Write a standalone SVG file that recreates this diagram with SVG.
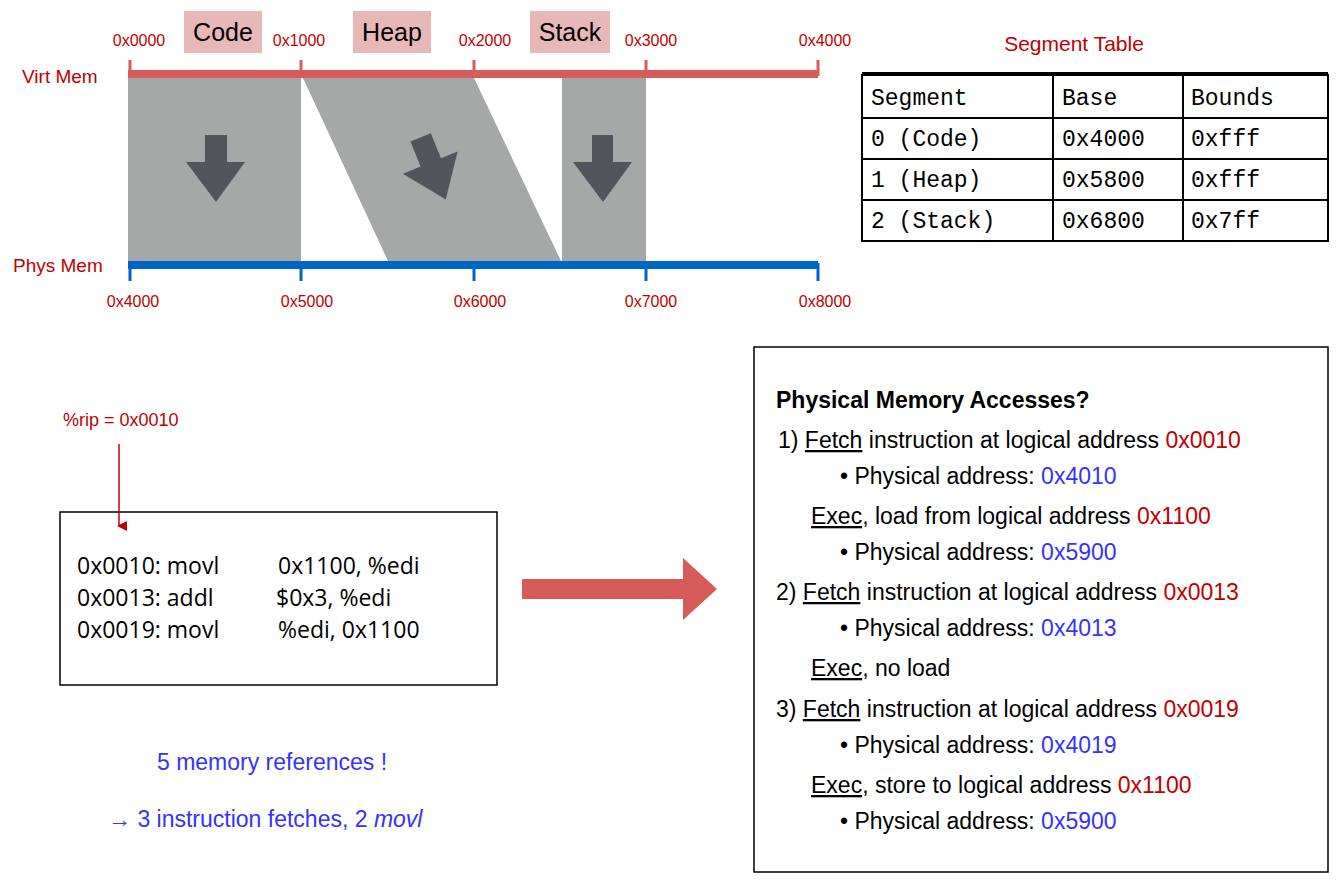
<svg xmlns="http://www.w3.org/2000/svg" width="1342" height="881" viewBox="0 0 1342 881">
<style>
.r{fill:#c00000;font-family:"Liberation Sans",Arial,sans-serif}
.ax{font-size:16px}
.lb{font-size:19px}
.seg{font-size:25px;font-family:"Liberation Sans",Arial,sans-serif;fill:#000}
.m{font-family:"Liberation Mono","Courier New",monospace;font-size:23px;fill:#000}
.t{font-family:"Liberation Sans",Arial,sans-serif;font-size:23px;fill:#000}
.b{fill:#3333ff}
.rd{fill:#c00000}
.c{font-family:"Open Sans","DejaVu Sans",sans-serif;font-size:23px;fill:#000}
</style>
<defs>
<marker id="ah" markerWidth="10" markerHeight="10" refX="5" refY="8" orient="auto" markerUnits="userSpaceOnUse"><path d="M0,0 L10,0 L5,10 Z" fill="#c00000"/></marker>
</defs>
<g id="mapping">
<rect x="128" y="78" width="173" height="183" fill="#a6a8a7"/>
<polygon points="303,78 474,78 561,261 388,261" fill="#a6a8a7"/>
<rect x="562" y="78" width="84" height="183" fill="#a6a8a7"/>
<path d="M205,135 H227 V162 H245 L216,202 L186,162 H205 Z" fill="#52565c"/>
<path d="M592,135 H613 V162 H632 L603,202 L573,162 H592 Z" fill="#52565c"/>
<path d="M205,135 H227 V162 H245 L216,202 L186,162 H205 Z" fill="#52565c" transform="translate(433,168) rotate(-22) translate(-216,-168)"/>
</g>
<g id="virt-axis">
<rect x="128" y="70" width="690" height="8" fill="#d75b58"/>
<path d="M130,60 V74 M301,60 V74 M474,60 V74 M646,60 V74 M818,60 V76" stroke="#d75b58" stroke-width="3"/>
<rect x="184" y="11" width="78" height="42" fill="#e6b8b7"/>
<rect x="353" y="11" width="78" height="42" fill="#e6b8b7"/>
<rect x="530" y="11" width="80" height="42" fill="#e6b8b7"/>
<text class="seg" x="223" y="41" text-anchor="middle">Code</text>
<text class="seg" x="392" y="41" text-anchor="middle">Heap</text>
<text class="seg" x="570" y="41" text-anchor="middle">Stack</text>
<text class="r ax" x="139" y="46" text-anchor="middle">0x0000</text>
<text class="r ax" x="299" y="46" text-anchor="middle">0x1000</text>
<text class="r ax" x="485" y="46" text-anchor="middle">0x2000</text>
<text class="r ax" x="651" y="46" text-anchor="middle">0x3000</text>
<text class="r ax" x="825" y="46" text-anchor="middle">0x4000</text>
<text class="r lb" x="22" y="83">Virt Mem</text>
</g>
<g id="phys-axis">
<rect x="128" y="261" width="690" height="8" fill="#0066c6"/>
<path d="M130,265 V281 M301,265 V281 M474,265 V281 M646,265 V281 M818,263 V281" stroke="#0066c6" stroke-width="3"/>
<text class="r ax" x="133" y="307" text-anchor="middle">0x4000</text>
<text class="r ax" x="307" y="307" text-anchor="middle">0x5000</text>
<text class="r ax" x="480" y="307" text-anchor="middle">0x6000</text>
<text class="r ax" x="651" y="307" text-anchor="middle">0x7000</text>
<text class="r ax" x="825" y="307" text-anchor="middle">0x8000</text>
<text class="r lb" x="13" y="272">Phys Mem</text>
</g>
<g id="segment-table">
<text class="r" x="1074" y="51" font-size="21" text-anchor="middle">Segment Table</text>
<rect x="862" y="75" width="466" height="166" fill="none" stroke="#000" stroke-width="2"/>
<line x1="862" y1="74" x2="1328" y2="74" stroke="#000" stroke-width="4"/>
<path d="M862,118 H1328 M862,159 H1328 M862,200 H1328 M1053,75 V241 M1183,75 V241" stroke="#000" stroke-width="2"/>
<text class="m" x="871" y="105">Segment</text><text class="m" x="1062" y="105">Base</text><text class="m" x="1191" y="105">Bounds</text>
<text class="m" x="871" y="146">0 (Code)</text><text class="m" x="1062" y="146">0x4000</text><text class="m" x="1191" y="146">0xfff</text>
<text class="m" x="871" y="187">1 (Heap)</text><text class="m" x="1062" y="187">0x5800</text><text class="m" x="1191" y="187">0xfff</text>
<text class="m" x="871" y="228">2 (Stack)</text><text class="m" x="1062" y="228">0x6800</text><text class="m" x="1191" y="228">0x7ff</text>
</g>
<g id="code-box">
<text class="r" x="63" y="426" font-size="18">%rip = 0x0010</text>
<rect x="60" y="512" width="437" height="173" fill="none" stroke="#000" stroke-width="1.5"/>
<text class="c" x="77" y="574">0x0010:  movl</text><text class="c" x="278" y="574">0x1100, %edi</text>
<text class="c" x="77" y="606">0x0013:  addl</text><text class="c" x="276" y="606">$0x3, %edi</text>
<text class="c" x="77" y="638">0x0019:  movl</text><text class="c" x="278" y="638">%edi, 0x1100</text>
</g>
<g id="notes">
<text class="t b" x="272" y="770" font-size="21" text-anchor="middle">5 memory references !</text>
<text class="t b" x="108" y="827" font-size="21">→ 3 instruction fetches, 2 <tspan font-style="italic">movl</tspan></text>
</g>
<g id="accesses">
<rect x="754" y="347" width="574" height="525" fill="none" stroke="#000" stroke-width="1.5"/>
<text class="t" x="776" y="408" font-weight="bold">Physical Memory Accesses?</text>
<text class="t" x="778" y="448">1) <tspan text-decoration="underline">Fetch</tspan> instruction at logical address <tspan class="rd">0x0010</tspan></text>
<text class="t" x="840" y="484">•    Physical address: <tspan class="b">0x4010</tspan></text>
<text class="t" x="811" y="524"><tspan text-decoration="underline">Exec</tspan>, load from logical address <tspan class="rd">0x1100</tspan></text>
<text class="t" x="840" y="560">•    Physical address: <tspan class="b">0x5900</tspan></text>
<text class="t" x="776" y="600">2) <tspan text-decoration="underline">Fetch</tspan> instruction at logical address <tspan class="rd">0x0013</tspan></text>
<text class="t" x="840" y="636">•    Physical address: <tspan class="b">0x4013</tspan></text>
<text class="t" x="811" y="676"><tspan text-decoration="underline">Exec</tspan>, no load</text>
<text class="t" x="776" y="717">3) <tspan text-decoration="underline">Fetch</tspan> instruction at logical address <tspan class="rd">0x0019</tspan></text>
<text class="t" x="840" y="753">•    Physical address: <tspan class="b">0x4019</tspan></text>
<text class="t" x="811" y="793"><tspan text-decoration="underline">Exec</tspan>, store to logical address <tspan class="rd">0x1100</tspan></text>
<text class="t" x="840" y="829">•    Physical address: <tspan class="b">0x5900</tspan></text>
</g>
<g id="connectors">
<line x1="119" y1="444" x2="119" y2="526" stroke="#c00000" stroke-width="1.5" marker-end="url(#ah)"/>
<path d="M522,579 H683 V558 L717,589 L683,620 V599 H522 Z" fill="#d75b58"/>
</g>
</svg>
